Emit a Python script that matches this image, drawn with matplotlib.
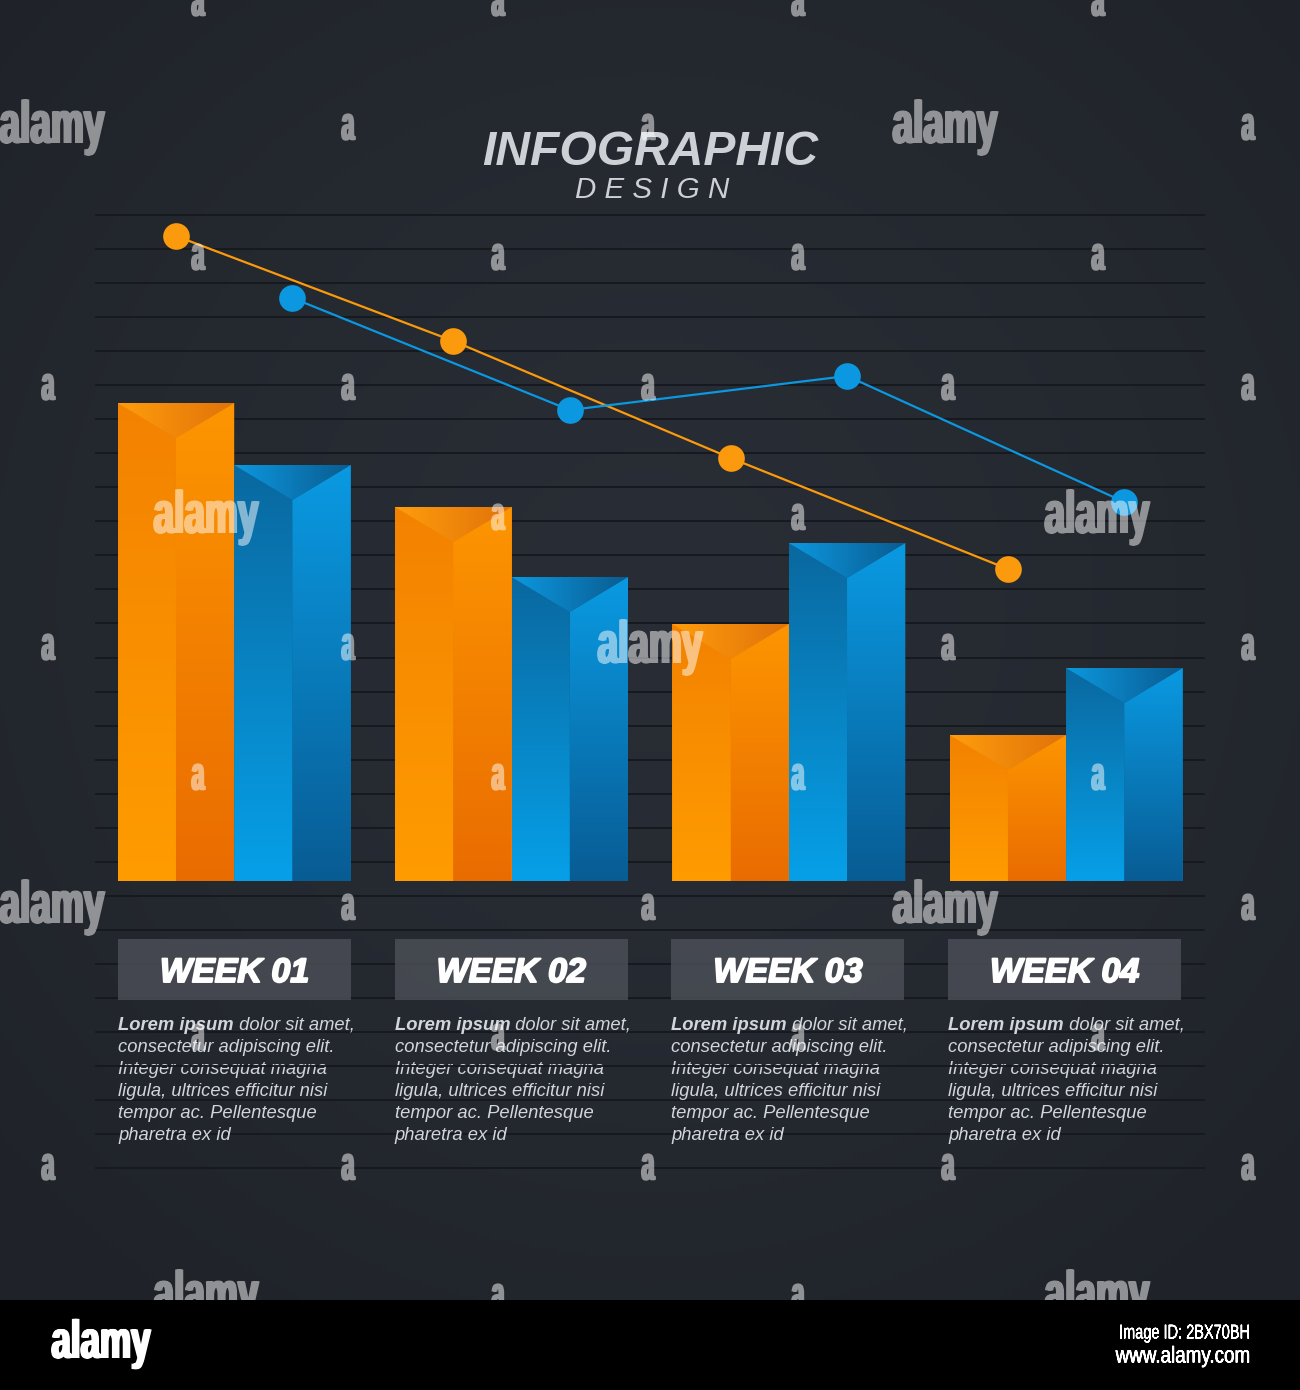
"""Infographic chart: weekly bars with two trend lines on a dark panel."""

import matplotlib

matplotlib.use("Agg")

import matplotlib.patheffects as pe
import matplotlib.pyplot as plt
import numpy as np
from matplotlib.colors import to_rgb
from matplotlib.patches import Polygon, Rectangle
from matplotlib.path import Path
from matplotlib.transforms import Affine2D, IdentityTransform

# Chart data
WEEKS = ["WEEK 01", "WEEK 02", "WEEK 03", "WEEK 04"]
ORANGE_BARS = [478, 374, 257, 146]
BLUE_BARS = [416, 304, 338, 213]
ORANGE_LINE = [645, 540, 423, 312]
BLUE_LINE = [583, 471, 505, 379]

BODY_BOLD = "Lorem ipsum"
BODY_FIRST = " dolor sit amet,"
BODY_LINES = [
    "consectetur adipiscing elit.",
    "Integer consequat magna",
    "ligula, ultrices efficitur nisi",
    "tempor ac. Pellentesque",
    "pharetra ex id",
]

COLORS = {
    "bg_mid": "#292D35",
    "bg_edge": "#1F2329",
    "rule": "#15181D",
    "box": "#4C4F57",
    "title": "#CDD0D5",
    "body": "#D2D5DA",
    "orange": "#FB9A0C",
    "blue": "#0B98E0",
}
ORANGE_FACES = {
    "left": ("#F38200", "#FF9C00"),
    "right": ("#FD9500", "#E96C00"),
    "top": ("#FF9D0C", "#E0720A"),
}
BLUE_FACES = {
    "left": ("#0A689F", "#06A0E8"),
    "right": ("#0A9AE2", "#085C94"),
    "top": ("#0C98DF", "#0A5B90"),
}

WIDTH, HEIGHT = 1300, 1390
BASELINE = 881
GROUP_STEP = 277.3
FIRST_GROUP = 234.2
BAR_WIDTH = 116.5 / GROUP_STEP
APEX_DROP = 35
SANS = "Liberation Sans"


class Condensed(pe.AbstractPathEffect):
    """Squeezes a text horizontally about a fixed x, there is no narrow font.

    Glyphs are also drawn at offsets in one compound path, which thickens the
    stems without a double blend when the text is translucent.
    """

    def __init__(self, center, scale, embolden=0.0):
        super().__init__()
        self.squeeze = Affine2D().translate(-center, 0).scale(scale, 1).translate(center, 0)
        self.embolden = embolden

    def draw_path(self, renderer, gc, tpath, affine, rgbFace=None):
        glyphs = (affine + self.squeeze).transform_path(tpath)
        copies = [
            Affine2D().translate(dx, 0).transform_path(glyphs)
            for dx in (-self.embolden, 0, self.embolden)
        ]
        renderer.draw_path(gc, Path.make_compound_path(*copies), IdentityTransform(), rgbFace)


def px(size):
    """Font size in points from a size in pixels at 100 dpi."""
    return size * 0.72


def ramp(start, end, horizontal=False):
    """Two colour gradient as an image array."""
    steps = np.linspace(0, 1, 256)[:, None]
    img = np.array(to_rgb(start)) * (1 - steps) + np.array(to_rgb(end)) * steps
    return img[None, :, :] if horizontal else img[:, None, :]


def squeezed_text(ax, x, y, text, target_width, embolden=0.0, **kwargs):
    """Text squeezed so that it is target_width pixels wide."""
    item = ax.text(x, y, text, **kwargs)
    natural = item.get_window_extent(ax.figure.canvas.get_renderer()).width
    item.set_path_effects([Condensed(x, (target_width - 2 * embolden) / natural, embolden)])
    return item


def draw_background(ax):
    yy, xx = np.mgrid[0:1300:325j, 0:1300:325j]
    dist = np.hypot(xx - 650, yy - 600) / 900
    mid = np.array(to_rgb(COLORS["bg_mid"]))
    edge = np.array(to_rgb(COLORS["bg_edge"]))
    img = mid + (edge - mid) * np.clip(dist, 0, 1)[:, :, None] ** 1.3
    ax.imshow(img, extent=(0, 1300, 1300, 0), aspect="auto", zorder=0)

    for y in np.arange(0, 29) * 34.04 + 215:
        ax.plot([96, 1204], [y, y], color=COLORS["rule"], lw=1.3, zorder=1)


def draw_face(ax, points, colors, horizontal=False):
    xs = [p[0] for p in points]
    ys = [p[1] for p in points]
    im = ax.imshow(
        ramp(colors[0], colors[1], horizontal),
        extent=(min(xs), max(xs), min(ys), max(ys)),
        origin="upper",
        aspect="auto",
        zorder=3,
    )
    im.set_clip_path(Polygon(points, transform=ax.transData))


def draw_bar(ax, left, height, faces):
    """One bar as a folded box: two long faces and a triangular lid."""
    right = left + BAR_WIDTH
    mid = left + BAR_WIDTH / 2
    apex = height - APEX_DROP
    # flat bar underneath so the clipped seams do not show the page through
    ax.bar(left, height, BAR_WIDTH, align="edge", color=faces["left"][0], zorder=2)
    draw_face(ax, [(left, height), (mid, apex), (mid, 0), (left, 0)], faces["left"])
    draw_face(ax, [(mid, apex), (right, height), (right, 0), (mid, 0)], faces["right"])
    draw_face(ax, [(left, height), (right, height), (mid, apex)], faces["top"], True)


def draw_chart(ax):
    x = np.arange(len(WEEKS))
    for i in x:
        draw_bar(ax, i - BAR_WIDTH, ORANGE_BARS[i], ORANGE_FACES)
        draw_bar(ax, i, BLUE_BARS[i], BLUE_FACES)

    line_style = {"lw": 1.6, "marker": "o", "ms": 19.2, "mew": 0, "zorder": 5}
    ax.plot(x - BAR_WIDTH / 2, ORANGE_LINE, color=COLORS["orange"], **line_style)
    ax.plot(x + BAR_WIDTH / 2, BLUE_LINE, color=COLORS["blue"], **line_style)

    ax.set_xlim(-FIRST_GROUP / GROUP_STEP, (WIDTH - FIRST_GROUP) / GROUP_STEP)
    ax.set_ylim(BASELINE - HEIGHT, BASELINE)
    ax.axis("off")


def draw_columns(fig, ax):
    """Week boxes and paragraphs, drawn in the page axes with the rules."""
    renderer = fig.canvas.get_renderer()
    body = {"family": SANS, "style": "italic", "fontsize": px(18.4),
            "color": COLORS["body"], "va": "baseline", "zorder": 1.5}
    for i, week in enumerate(WEEKS):
        left = 118 + i * 276.7
        ax.add_patch(Rectangle((left, 939), 233, 61, color=COLORS["box"], alpha=0.82, lw=0, zorder=2))
        ax.text(left + 116.5, 982, week, family=SANS, weight="bold", style="italic",
                fontsize=px(34), color="white", ha="center", va="baseline", zorder=6,
                path_effects=[pe.withStroke(linewidth=1.4, foreground="white")])

        bold = ax.text(left, 1030, BODY_BOLD, **{**body, "weight": "bold"})
        bold_px = bold.get_window_extent(renderer).width
        ax.text(left + bold_px, 1030, BODY_FIRST, **body)
        for row, line in enumerate(BODY_LINES, start=1):
            # the rule only strikes through the "Integer" row in the original
            order = 0.5 if row == 2 else 1.5
            ax.text(left, 1030 + row * 22, line, **{**body, "zorder": order})


def draw_texts(ax):
    ax.text(650.5, 165, "INFOGRAPHIC", family=SANS, weight="bold", style="italic",
            fontsize=px(48), color=COLORS["title"], ha="center", va="baseline", zorder=6)
    ax.text(652, 198, "D E S I G N", family=SANS, style="italic",
            fontsize=px(29.5), color=COLORS["title"], ha="center", va="baseline", zorder=6)

    # Footer strip
    squeezed_text(ax, 101, 1344, "alamy", 102, embolden=1.4, family=SANS, weight="bold",
                  fontsize=px(54), color="white", ha="center", va="center", zorder=10)
    squeezed_text(ax, 1250, 1333, "Image ID: 2BX70BH", 131, family=SANS, fontsize=px(20),
                  color="white", ha="right", va="center", zorder=10)
    squeezed_text(ax, 1250, 1356, "www.alamy.com", 135, embolden=0.3, family=SANS, fontsize=px(23),
                  color="white", ha="right", va="center", zorder=10)


def draw_watermarks(ax):
    mark = {"family": SANS, "weight": "bold", "color": "white", "alpha": 0.5,
            "ha": "center", "va": "baseline", "zorder": 8}
    words = [(52, 128), (945, 128), (206, 518), (1097, 518), (650, 648),
             (52, 908), (945, 908), (206, 1298), (1097, 1298)]
    for x, y in words:
        squeezed_text(ax, x, y + 15, "alamy", 108, embolden=1.5, fontsize=px(60), **mark)
    letters = [(348, 127), (648, 127), (1248, 127),
               (48, 387), (348, 387), (648, 387), (948, 387), (1248, 387),
               (48, 647), (348, 647), (948, 647), (1248, 647),
               (348, 907), (648, 907), (1248, 907),
               (48, 1167), (348, 1167), (648, 1167), (948, 1167), (1248, 1167),
               (198, 3), (498, 3), (798, 3), (1098, 3),
               (198, 257), (498, 257), (798, 257), (1098, 257),
               (498, 517), (798, 517),
               (198, 777), (498, 777), (798, 777), (1098, 777),
               (198, 1037), (498, 1037), (798, 1037), (1098, 1037),
               (498, 1297), (798, 1297)]
    for x, y in letters:
        squeezed_text(ax, x, y + 13, "a", 15.5, embolden=1.3, fontsize=px(49), **mark)


def main():
    fig = plt.figure(figsize=(WIDTH / 100, HEIGHT / 100), dpi=100)
    fig.patch.set_facecolor(COLORS["bg_edge"])

    page = fig.add_axes([0, 0, 1, 1], zorder=1)
    draw_background(page)
    page.set_xlim(0, WIDTH)
    page.set_ylim(HEIGHT, 0)
    page.axis("off")
    draw_columns(fig, page)

    chart = fig.add_axes([0, 0, 1, 1], zorder=2)
    chart.patch.set_alpha(0)
    draw_chart(chart)

    # title and watermarks sit over the bars, the black strip over the watermarks
    over = fig.add_axes([0, 0, 1, 1], zorder=3)
    over.patch.set_alpha(0)
    over.set_xlim(0, WIDTH)
    over.set_ylim(HEIGHT, 0)
    over.axis("off")
    draw_texts(over)
    draw_watermarks(over)
    over.add_patch(Rectangle((0, 1300), WIDTH, 90, color="#000000", lw=0, zorder=9))

    fig.savefig("out.png", dpi=100, facecolor=fig.get_facecolor())
    plt.close(fig)


if __name__ == "__main__":
    main()
